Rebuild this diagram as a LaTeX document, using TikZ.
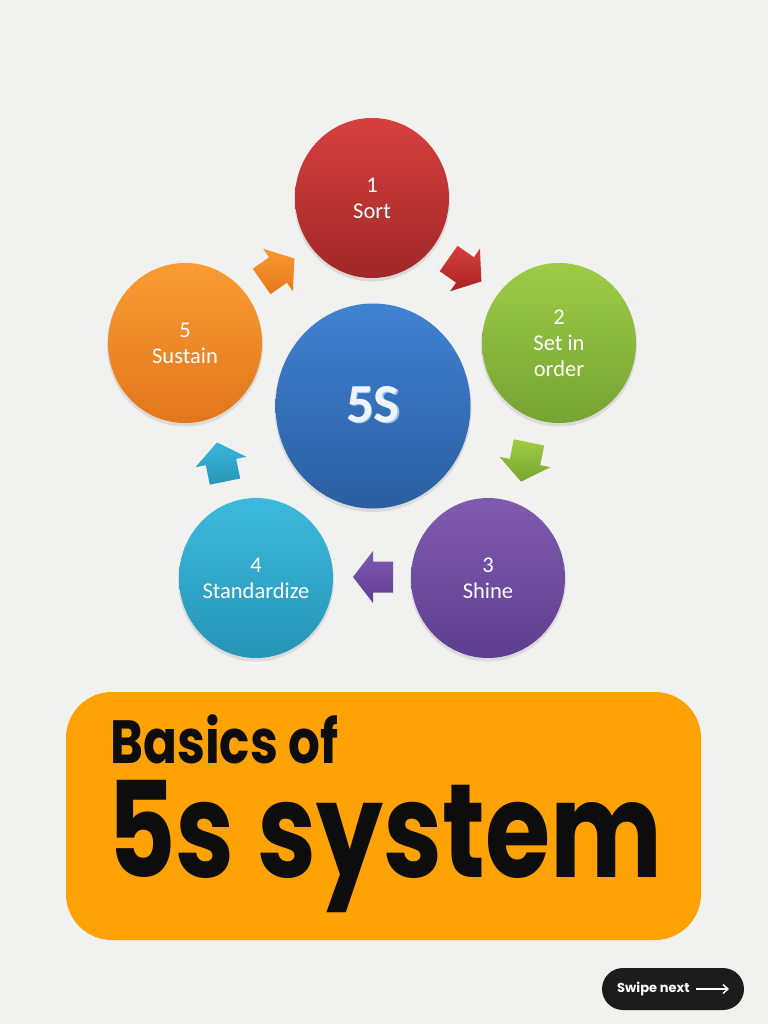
\documentclass[tikz,border=0pt]{standalone}
\usepackage{fontspec}
\usepackage{graphicx}
\newfontfamily\carl{Carlito}
\newfontfamily\pop{Poppins}
\usetikzlibrary{shapes.geometric,arrows.meta}
\definecolor{bg}{HTML}{F1F1EF}
\definecolor{band}{HTML}{FFA205}
\definecolor{btn}{HTML}{1C1C1C}
\tikzset{
  bubble/.style={ellipse, inner sep=0pt, minimum width=154pt, minimum height=160pt,
    text=white, align=center, font=\carl\fontsize{22.5}{26}\selectfont},
}
\newcommand{\blockarr}[4]{% center, angle, top color, bottom color
  \path[shift={#1}, rotate=#2, top color=#3, bottom color=#4]
    (-20,-15.5) -- (0,-15.5) -- (0,-26) -- (20,0) -- (0,26) -- (0,15.5) -- (-20,15.5) -- cycle;
}
\begin{document}
\begin{tikzpicture}[x=1pt,y=-1pt]
\useasboundingbox (0,0) rectangle (768,1024);
\fill[bg] (0,0) rectangle (768,1024);

% soft shadows
\foreach \cx/\cy/\w/\h in {372/198/154/160, 559/343/154/160, 185/343/154/160, 256/578/154/160, 488/578/154/160, 373/406/195/205}{
  \fill[black!14] (\cx,\cy+2.5) ellipse [x radius=\w/2+1, y radius=\h/2+1];
}

\node[bubble, top color={rgb,255:red,214;green,64;blue,62}, bottom color={rgb,255:red,160;green,40;blue,40}] (sort) at (372,198) {1\\Sort};
\node[bubble, top color={rgb,255:red,158;green,204;blue,70}, bottom color={rgb,255:red,118;green,163;blue,50}] (set) at (559,343) {2\\Set in\\order};
\node[bubble, top color={rgb,255:red,250;green,156;blue,50}, bottom color={rgb,255:red,226;green,118;blue,28}] (sustain) at (185,343) {5\\Sustain};
\node[bubble, top color={rgb,255:red,60;green,186;blue,222}, bottom color={rgb,255:red,37;green,148;blue,182}] (std) at (256,578) {4\\Standardize};
\node[bubble, top color={rgb,255:red,128;green,92;blue,176}, bottom color={rgb,255:red,94;green,62;blue,142}] (shine) at (488,578) {3\\Shine};
\node[ellipse, inner sep=0pt, minimum width=195pt, minimum height=205pt,
  top color={rgb,255:red,64;green,130;blue,210}, bottom color={rgb,255:red,42;green,94;blue,160}] (center) at (373,406) {};
\node[text={rgb,255:red,150;green,195;blue,245}, font=\carl\bfseries\fontsize{55}{55}\selectfont] (fivesglow) at (374.5,406) {5S};
\node[text={rgb,255:red,238;green,245;blue,255}, font=\carl\bfseries\fontsize{55}{55}\selectfont] (fives) at (373,404.5) {5S};

% block arrows
\blockarr{(465,270)}{-35}{{rgb,255:red,214;green,62;blue,60}}{{rgb,255:red,170;green,36;blue,36}}
\blockarr{(525,462)}{-101.5}{{rgb,255:red,160;green,204;blue,70}}{{rgb,255:red,120;green,166;blue,48}}
\blockarr{(373,577)}{180}{{rgb,255:red,126;green,90;blue,176}}{{rgb,255:red,96;green,62;blue,146}}
\blockarr{(221,462)}{101.5}{{rgb,255:red,58;green,182;blue,218}}{{rgb,255:red,38;green,150;blue,184}}
\blockarr{(278,270)}{35}{{rgb,255:red,250;green,152;blue,48}}{{rgb,255:red,228;green,122;blue,30}}

% title band
\fill[band, rounded corners=46pt] (66,692) rectangle (701,940);
\node[anchor=base west, inner sep=0pt, font=\pop\bfseries\fontsize{61}{61}\selectfont, text=black!95] (basics) at (110,763) {\scalebox{0.82}[1]{Basics of}};
\node[anchor=base west, inner sep=0pt, font=\pop\bfseries\fontsize{133}{133}\selectfont, text=black!95] (sys) at (107,877) {\scalebox{0.795}[1]{5s system}};

% swipe button
\node[fill=btn, rounded corners=21pt, minimum width=142pt, minimum height=42pt, inner sep=0pt] (btn) at (673,989) {};
\node[anchor=west, text=white, inner sep=0pt, font=\pop\bfseries\fontsize{13}{13}\selectfont] (swipe) at (617,989) {Swipe next};
\coordinate (ar1) at (696,989);
\coordinate (ar2) at (729,989);
\draw[white, line width=1.4pt, -{Straight Barb[length=5pt,width=9pt]}] (ar1) -- (ar2);
\end{tikzpicture}
\end{document}
